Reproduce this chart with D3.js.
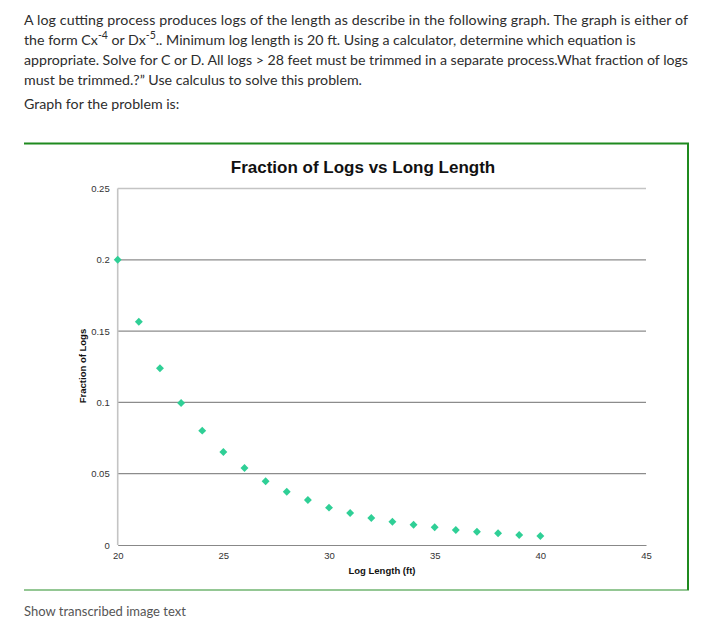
<!DOCTYPE html>
<html lang="en">
<head>
    <meta charset="UTF-8">
    <title>Fraction of Logs vs Long Length</title>
    <script src="https://d3js.org/d3.v7.min.js"></script>
</head>
<style>
    html,body {
        margin: 0;
        padding: 0;
        background: #fff;
    }
</style>
<body>
    <div id="svg"></div>
</body>
<script>
    // log length (ft)
    const lengths = [20, 21, 22, 23, 24, 25, 26, 27, 28, 29, 30, 31, 32, 33, 34, 35, 36, 37, 38, 39, 40];
    // fraction of logs
    const fractions = [0.2, 0.1566, 0.1239, 0.0996, 0.0802, 0.0652, 0.054, 0.0447, 0.0374, 0.0316, 0.0262,
        0.0224, 0.0189, 0.0163, 0.0142, 0.0124, 0.0105, 0.0093, 0.0082, 0.007, 0.0063];
    const xTicks = [20, 25, 30, 35, 40, 45];
    const yTicks = [0, 0.05, 0.1, 0.15, 0.2, 0.25];

    const width = 706;
    const height = 630;
    // plot area
    const plot = {left: 117.7, right: 646, top: 188.5, bottom: 545};

    const svg = d3.select('#svg').append('svg')
        .attr('width', width)
        .attr('height', height);

    // question text (fit = stretch the line to the right edge)
    const lines = [
        {fit: 664, parts: [['A log cutting process produces logs of the length as describe in the following graph. The graph is either of']]},
        {fit: 0, parts: [['the form Cx'], ['-4', 'sup'], [' or Dx'], ['-5', 'sup'], ['.. Minimum log length is 20 ft. Using a calculator, determine which equation is']]},
        {fit: 664, parts: [['appropriate. Solve for C or D. All logs > 28 feet must be trimmed in a separate process.What fraction of logs']]},
        {fit: 0, parts: [['must be trimmed.?” Use calculus to solve this problem.']]}
    ];
    const q = svg.append('g')
        .attr('font-family', 'Lato, "Open Sans", sans-serif')
        .attr('font-size', '14.2px')
        .attr('fill', '#2d2d2d');
    lines.forEach((line, i) => {
        const t = q.append('text').attr('x', 24).attr('y', 25 + i * 20);
        line.parts.forEach(p => {
            const s = t.append('tspan').text(p[0]);
            if (p[1] === 'sup') s.attr('dy', -6).attr('font-size', '10.5px');
            else if (t.selectAll('tspan').size() > 1) s.attr('dy', 6);
        });
        if (line.fit) t.attr('textLength', line.fit).attr('lengthAdjust', 'spacing');
    });
    q.append('text').attr('x', 24).attr('y', 109).text('Graph for the problem is:');

    svg.append('text')
        .attr('x', 24).attr('y', 616)
        .attr('font-family', 'Lato, "Open Sans", sans-serif')
        .attr('font-size', '13px')
        .attr('fill', '#555')
        .text('Show transcribed image text');

    // green frame
    svg.append('path')
        .attr('d', 'M24,143.5 H688 V590')
        .attr('fill', 'none')
        .attr('stroke', '#1f8a1f')
        .attr('stroke-width', 2);
    svg.append('line')
        .attr('x1', 24).attr('x2', 689).attr('y1', 590).attr('y2', 590)
        .attr('stroke', '#2a8f2a').attr('stroke-width', 1.2);

    const xScale = d3.scaleLinear().domain([20, 45]).range([plot.left, plot.right]);
    const yScale = d3.scaleLinear().domain([0, 0.25]).range([plot.bottom, plot.top]);

    // grid lines
    svg.append('g').selectAll('line').data(yTicks.filter(d => d > 0 && d < 0.25)).enter().append('line')
        .attr('x1', plot.left).attr('x2', plot.right)
        .attr('y1', d => yScale(d)).attr('y2', d => yScale(d))
        .attr('stroke', '#8c8c8c').attr('stroke-width', 1.2);
    // top border and left axis
    svg.append('line')
        .attr('x1', plot.left).attr('x2', plot.right)
        .attr('y1', yScale(0.25)).attr('y2', yScale(0.25))
        .attr('stroke', '#c4c4c4').attr('stroke-width', 1.6);
    svg.append('line')
        .attr('x1', plot.left).attr('x2', plot.left)
        .attr('y1', yScale(0.25)).attr('y2', yScale(0))
        .attr('stroke', '#c4c4c4').attr('stroke-width', 1.6);

    // y axis labels
    const yAxis = d3.axisLeft(yScale).tickValues(yTicks).tickSize(0).tickPadding(8)
        .tickFormat(d => d3.format('')(+d.toFixed(2)));
    const gY = svg.append('g').attr('transform', `translate(${plot.left}, 0)`).call(yAxis);
    gY.select('.domain').remove();
    gY.selectAll('text').attr('font-family', 'Arial, "Liberation Sans", sans-serif').attr('font-size', '9.5px').attr('fill', '#333');

    // x axis
    const xAxis = d3.axisBottom(xScale).tickValues(xTicks).tickSize(0).tickPadding(7);
    const gX = svg.append('g').attr('transform', `translate(0, ${plot.bottom})`).call(xAxis);
    gX.select('.domain').attr('stroke', '#888').attr('stroke-width', 1.2);
    gX.selectAll('text').attr('font-family', 'Arial, "Liberation Sans", sans-serif').attr('font-size', '9.5px').attr('fill', '#333');

    // title and axis titles
    svg.append('text')
        .attr('x', 363).attr('y', 173)
        .attr('text-anchor', 'middle')
        .attr('font-family', 'Arial, "Liberation Sans", sans-serif')
        .attr('font-weight', 'bold')
        .attr('font-size', '17px')
        .attr('fill', '#111')
        .text('Fraction of Logs vs Long Length');
    svg.append('text')
        .attr('x', 382).attr('y', 574)
        .attr('text-anchor', 'middle')
        .attr('font-family', 'Arial, "Liberation Sans", sans-serif')
        .attr('font-weight', 'bold')
        .attr('font-size', '9.5px')
        .attr('fill', '#111')
        .text('Log Length (ft)');
    svg.append('text')
        .attr('transform', 'translate(86, 366) rotate(-90)')
        .attr('text-anchor', 'middle')
        .attr('font-family', 'Arial, "Liberation Sans", sans-serif')
        .attr('font-weight', 'bold')
        .attr('font-size', '9.5px')
        .attr('fill', '#111')
        .text('Fraction of Logs');

    // diamond markers
    const diamond = d3.symbol().type(d3.symbolDiamond2).size(40);
    svg.append('g').selectAll('path').data(lengths).enter().append('path')
        .attr('d', diamond)
        .attr('transform', (d, i) => `translate(${xScale(d)}, ${yScale(fractions[i])})`)
        .attr('fill', '#2fcf96');
</script>
</html>
